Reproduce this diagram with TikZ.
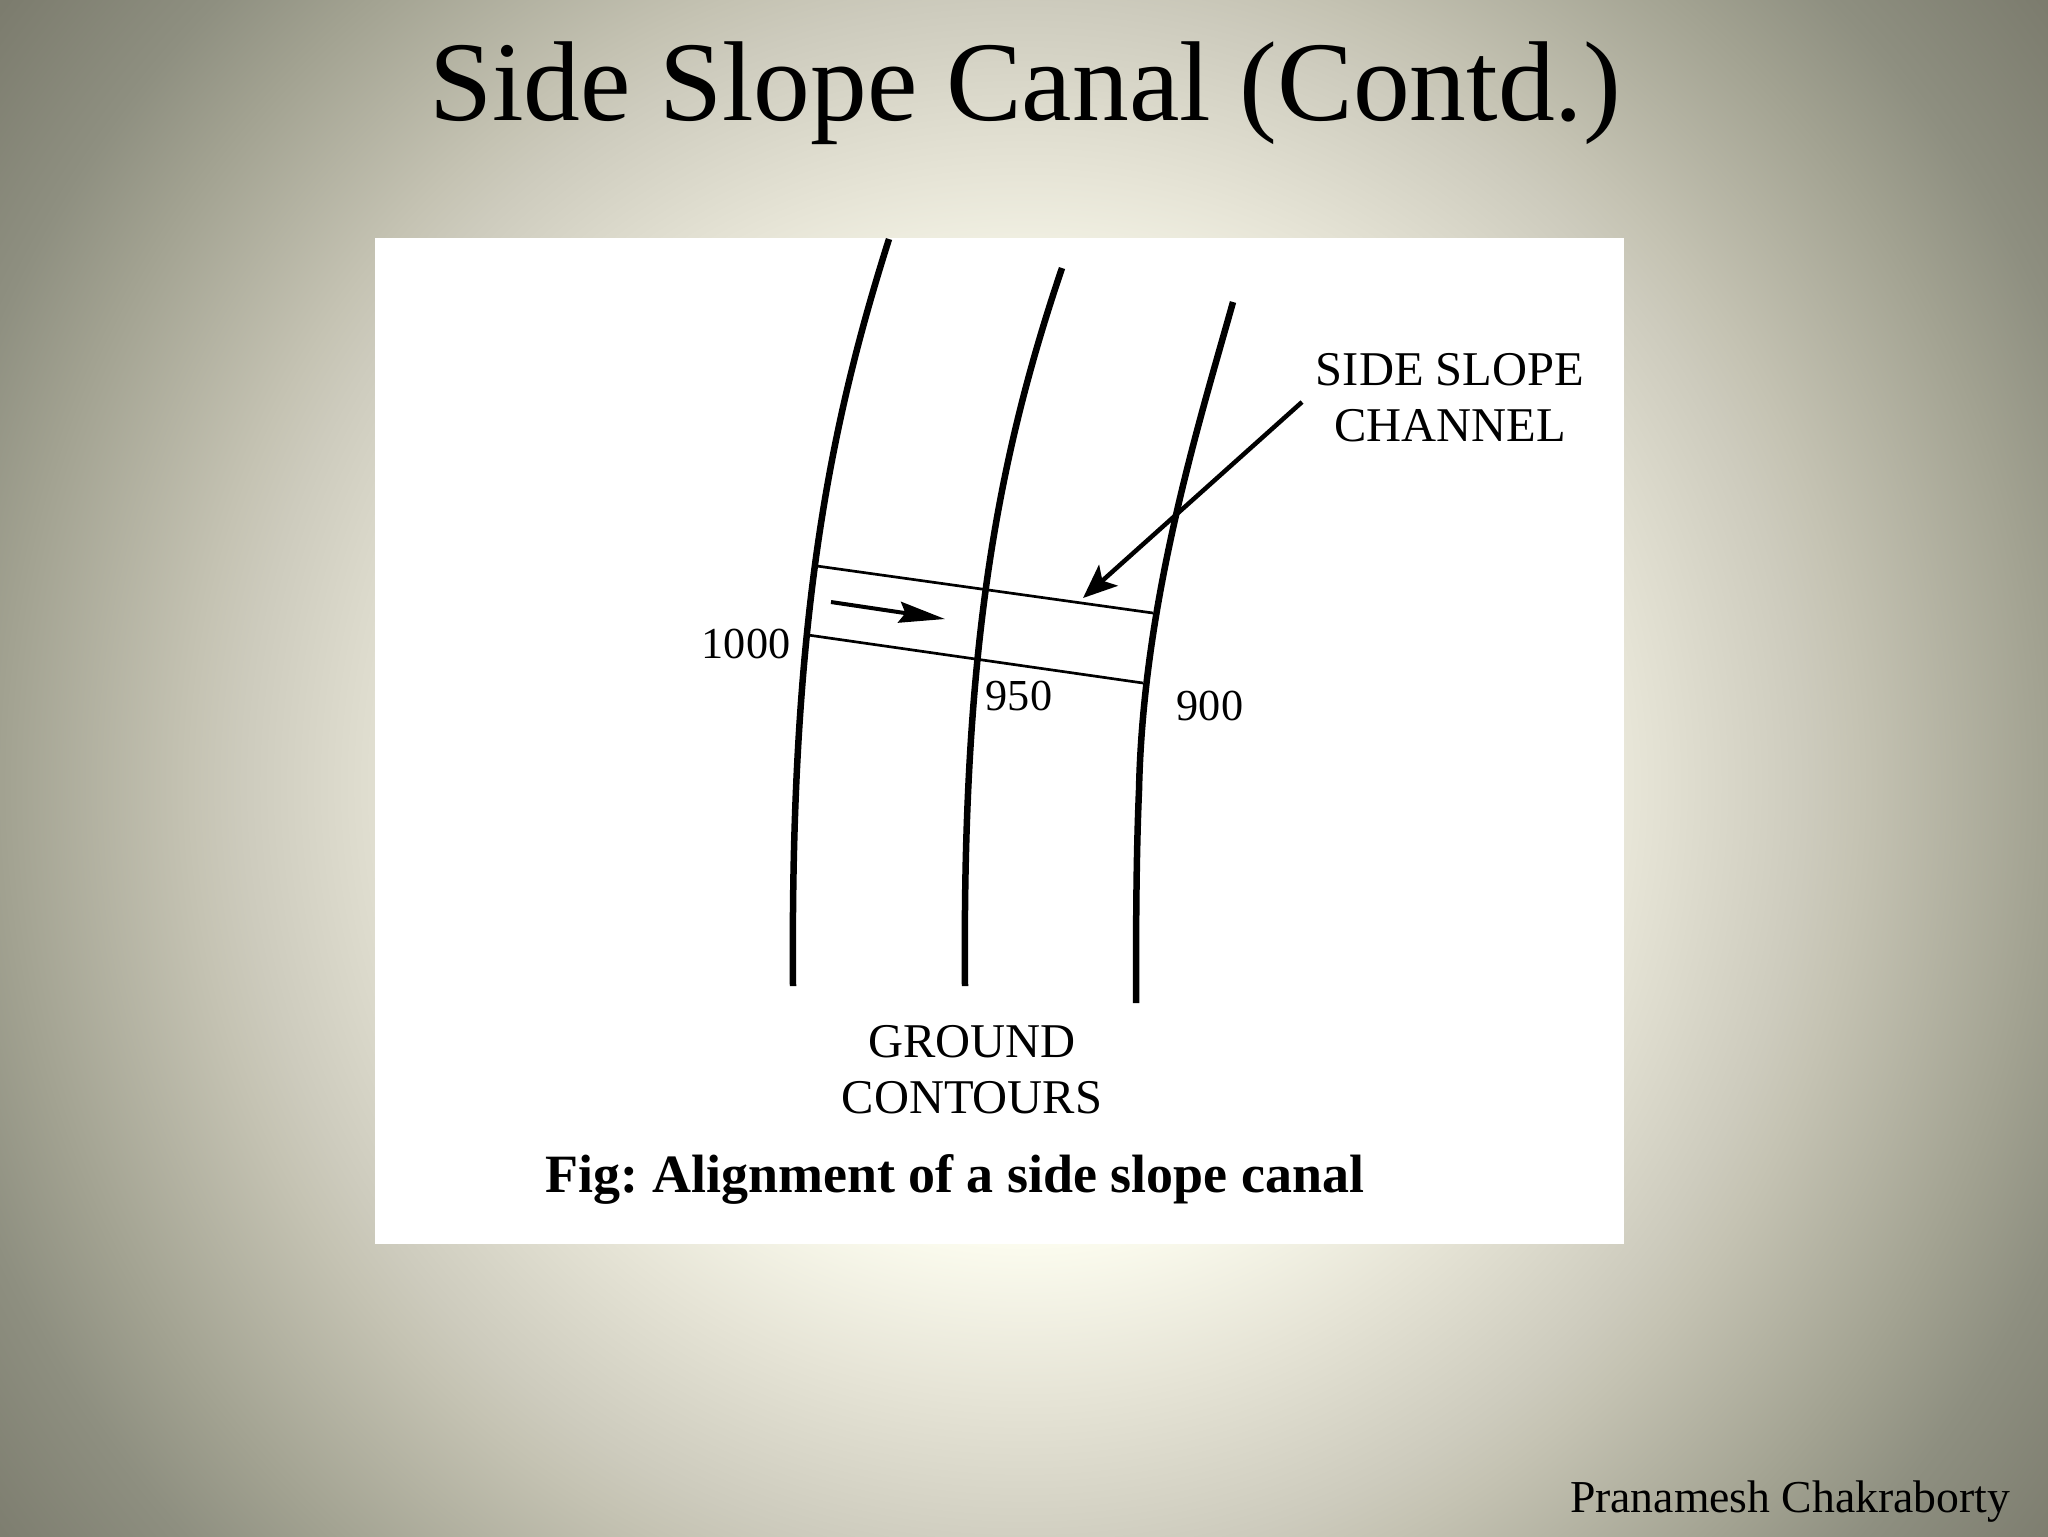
\documentclass[tikz,border=0pt]{standalone}
\usepackage{fontspec}
\setmainfont{Liberation Serif}
\usetikzlibrary{arrows.meta}
\definecolor{glowA}{RGB}{251,251,238}
\definecolor{glowB}{RGB}{230,228,214}
\definecolor{glowC}{RGB}{205,203,189}
\definecolor{glowD}{RGB}{197,195,179}
\definecolor{glowE}{RGB}{162,162,145}
\definecolor{glowF}{RGB}{142,143,128}
\definecolor{glowG}{RGB}{124,124,110}
\pgfdeclareradialshading{slideglow}{\pgfpoint{0bp}{0bp}}{%
  color(0bp)=(glowA);
  color(8.8bp)=(glowA);
  color(11.7bp)=(glowB);
  color(14.9bp)=(glowC);
  color(15.9bp)=(glowD);
  color(19.5bp)=(glowE);
  color(21.5bp)=(glowF);
  color(24.5bp)=(glowG);
  color(50bp)=(glowG)}
\frenchspacing
\begin{document}
\begin{tikzpicture}[
  x=0.1mm, y=-0.1mm,
  >=Stealth,
  contour/.style={line width=0.65mm},
  bankline/.style={line width=0.27mm},
  figlabel/.style={font=\fontsize{13.8pt}{15.9pt}\selectfont, align=center, anchor=base, inner sep=0pt},
  levellabel/.style={font=\fontsize{12.6pt}{15pt}\selectfont, anchor=base, inner sep=0pt},
]
\useasboundingbox (0, 0) rectangle (2048, 1536);

% Slide background
\begin{scope}
  \clip (0, 0) rectangle (2048, 1536);
  \shade[shading=slideglow] (1024, 784) circle (131mm);
\end{scope}
\fill[white] (375, 238) rectangle (1624, 1244);

% Title and footer
\node[font=\fontsize{32.3pt}{38pt}\selectfont, anchor=base, inner sep=0pt] (title) at (1025, 120) {Side Slope Canal (Contd.)};
\node[font=\fontsize{13pt}{15pt}\selectfont, anchor=base east, inner sep=0pt] (footer) at (2011, 1512) {Pranamesh Chakraborty};

% Ground contours
\draw[contour] (889, 239) .. controls (830, 425) and (790, 620) .. (793, 986);
\draw[contour] (1062, 268) .. controls (997, 460) and (962, 650) .. (965, 986);
\draw[contour] (1233, 302) .. controls (1200, 420) and (1143, 600) .. (1139, 790)
  .. controls (1136, 860) and (1136, 940) .. (1136, 1003);

% Channel banks
\coordinate (bankAleft) at (817, 566);
\coordinate (bankAright) at (1153, 613);
\coordinate (bankBleft) at (808, 635);
\coordinate (bankBright) at (1143, 683);
\draw[bankline] (bankAleft) -- (bankAright);
\draw[bankline] (bankBleft) -- (bankBright);

% Flow direction
\coordinate (flowstart) at (831, 602);
\coordinate (flowend) at (945, 619);
\draw[-{Stealth[length=4.6mm, width=2.1mm, inset=0.6mm]}, line width=0.4mm] (flowstart) -- (flowend);

% Labels
\node[figlabel] (channel) at (1450, 441) {SIDE SLOPE\\CHANNEL};
\node[figlabel] (ground) at (972, 1113) {GROUND\\CONTOURS};
\node[font=\bfseries\fontsize{15.35pt}{18pt}\selectfont, anchor=base, inner sep=0pt] (caption) at (955, 1192) {Fig: Alignment of a side slope canal};
\node[levellabel] (level1000) at (746, 658) {1000};
\node[levellabel] (level950) at (1019, 710) {950};
\node[levellabel] (level900) at (1210, 720) {900};

% Pointer to the channel
\coordinate (pointerstart) at (1302, 402);
\coordinate (pointerend) at (1083, 598);
\draw[-{Stealth[length=3.4mm, width=2.8mm, inset=0.8mm]}, line width=0.45mm] (pointerstart) -- (pointerend);
\end{tikzpicture}
\end{document}
